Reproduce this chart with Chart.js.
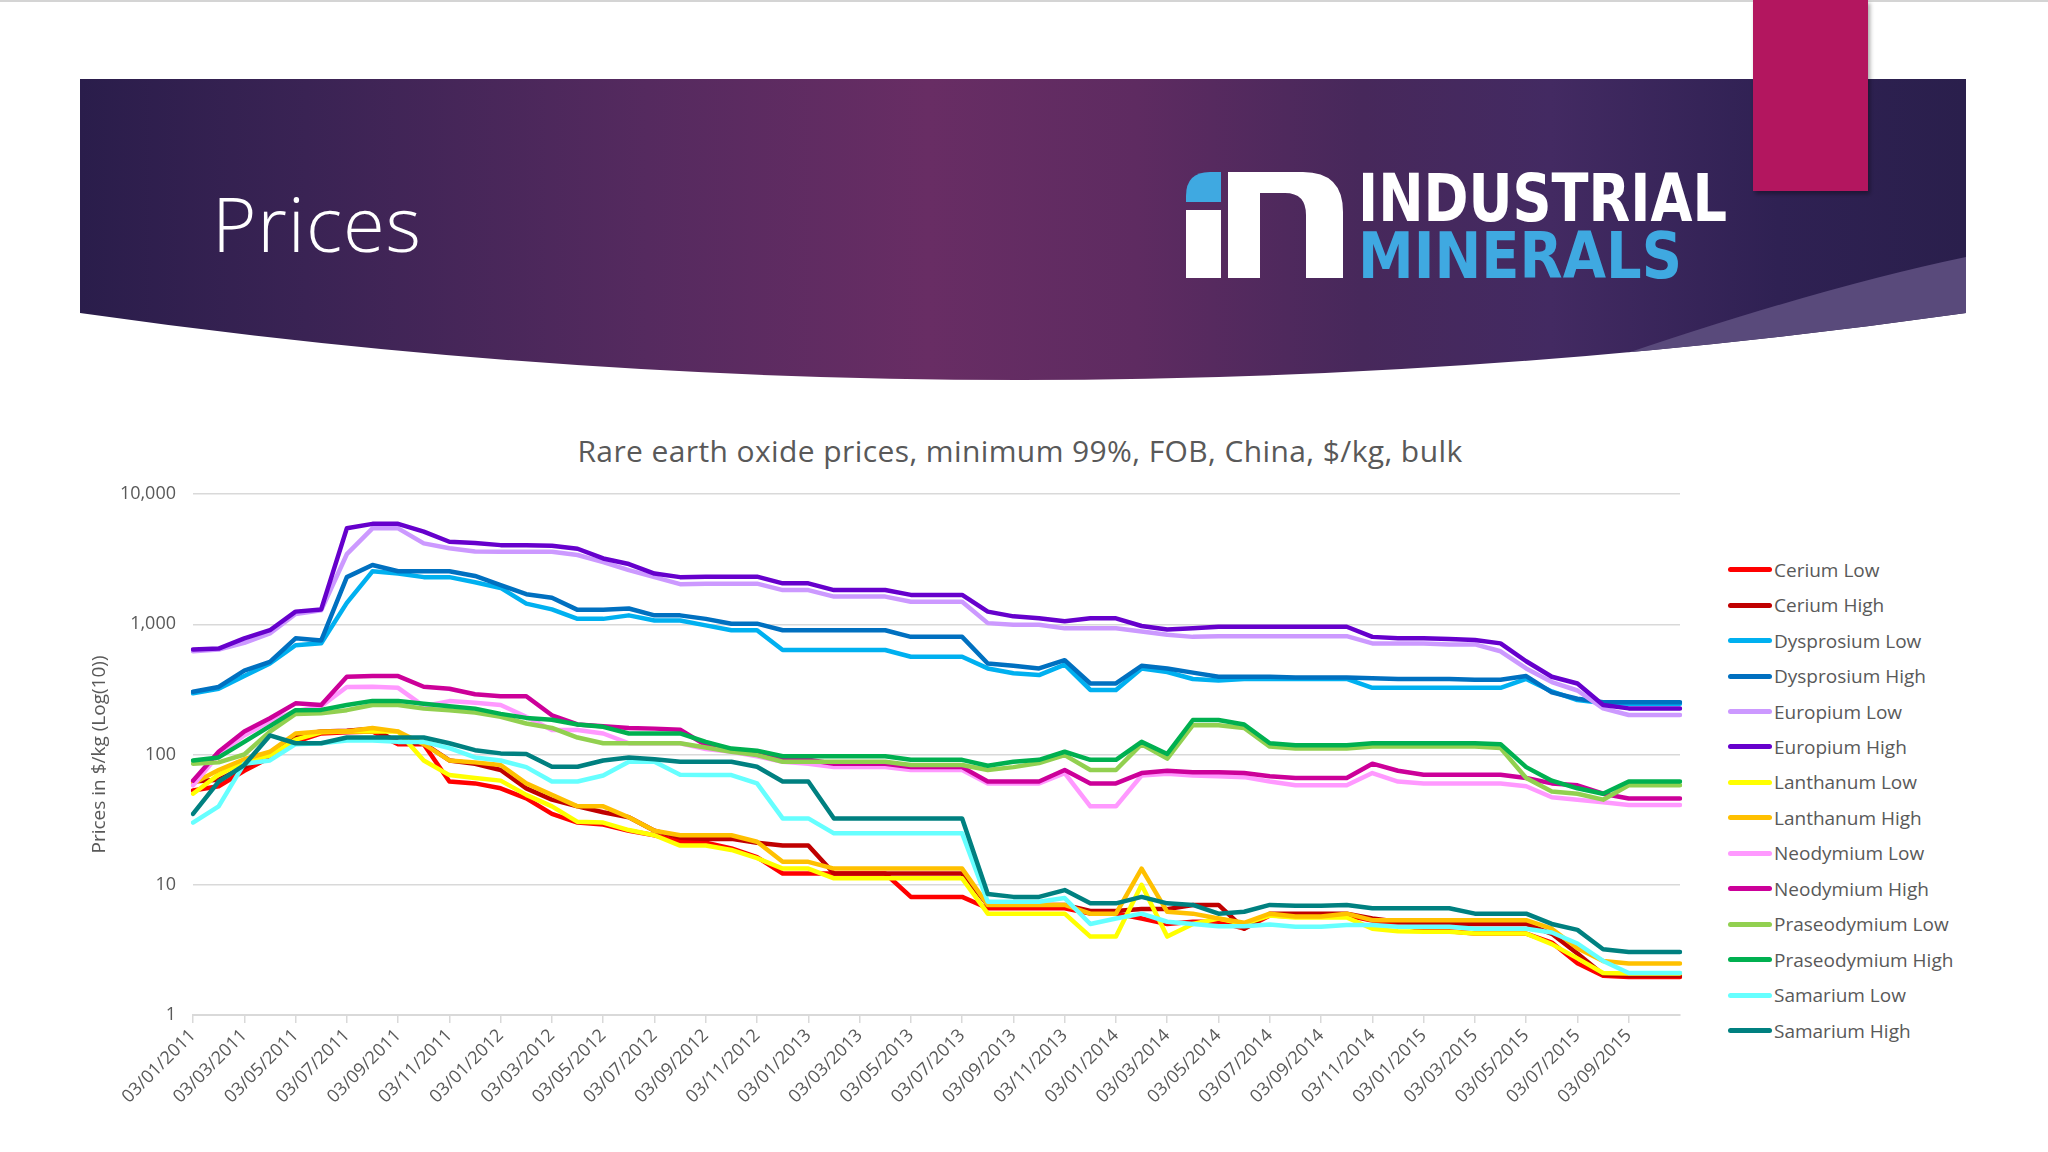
<!DOCTYPE html>
<html>
<head>
<meta charset="utf-8">
<script src="https://cdn.jsdelivr.net/npm/chart.js@4.4.1/dist/chart.umd.min.js"></script>
<style>
  html, body { margin: 0; padding: 0; background: #fff; }
  body { width: 2048px; height: 1152px; position: relative; overflow: hidden; font-family: 'Open Sans', sans-serif; }
  #topline { position: absolute; left: 0; top: 0; width: 2048px; height: 2px; background: #d4d4d4; }
  #header { position: absolute; left: 0; top: 0; }
  #chartTitle { position: absolute; left: 420px; width: 1200px; top: 430px; text-align: center; font-size: 30px; letter-spacing: 0.4px; color: #595959; }
  #wrap { position: absolute; left: 80px; top: 420px; width: 1620px; height: 732px; }
  #legend { position: absolute; left: 1728px; top: 552px; }
  .item { display: flex; align-items: center; height: 35.46px; font-size: 19px; color: #595959; white-space: nowrap; }
  .swatch { width: 44px; height: 5px; border-radius: 3px; margin-right: 2px; }
</style>
</head>
<body>
<div id="topline"></div>
<svg id="header" width="2048" height="420" xmlns="http://www.w3.org/2000/svg">
  <defs>
    <linearGradient id="band" gradientUnits="userSpaceOnUse" x1="80" y1="0" x2="1966" y2="0">
      <stop offset="0" stop-color="#2a1d4b"/>
      <stop offset="0.12" stop-color="#3a2354"/>
      <stop offset="0.3" stop-color="#552a5f"/>
      <stop offset="0.45" stop-color="#682d64"/>
      <stop offset="0.56" stop-color="#5e2b61"/>
      <stop offset="0.68" stop-color="#47285b"/>
      <stop offset="0.78" stop-color="#432a62"/>
      <stop offset="0.9" stop-color="#2f2153"/>
      <stop offset="1" stop-color="#2a1f4c"/>
    </linearGradient>
    <clipPath id="bandClip">
      <path d="M80,79 H1966 V313 Q1020,447 80,313 Z"/>
    </clipPath>
    <filter id="shadow" x="-20%" y="-20%" width="140%" height="140%">
      <feDropShadow dx="2" dy="3" stdDeviation="2" flood-color="#000" flood-opacity="0.35"/>
    </filter>
  </defs>
  <path d="M80,79 H1966 V313 Q1020,447 80,313 Z" fill="url(#band)"/>
  <path d="M1966,257 Q1760,300 1440,420 L1966,420 Z" fill="#594a7b" clip-path="url(#bandClip)"/>
  <rect x="1753" y="0" width="115" height="191" fill="#b3135e" filter="url(#shadow)"/>
  <text x="212" y="252" font-family="'Open Sans', sans-serif" font-weight="300" font-size="76" fill="#ffffff" textLength="209" lengthAdjust="spacing">Prices</text>
  <path d="M1186,278 V210 H1221 V278 Z" fill="#ffffff"/>
  <path d="M1186,202 V196 Q1186,172 1210,172 H1221 V202 Z" fill="#3fa9e1"/>
  <path d="M1228,278 V172 H1303 Q1343,172 1343,212 V278 H1306 V215 Q1306,193 1285,193 H1260 V278 Z" fill="#ffffff"/>
  <text x="1358" y="221" font-family="'Liberation Sans Narrow', 'DejaVu Sans Condensed', 'Roboto', sans-serif" font-weight="700" font-size="66" fill="#ffffff" textLength="369" lengthAdjust="spacingAndGlyphs">INDUSTRIAL</text>
  <text x="1358" y="278" font-family="'Liberation Sans Narrow', 'DejaVu Sans Condensed', 'Roboto', sans-serif" font-weight="700" font-size="64" fill="#3fa9e1" textLength="324" lengthAdjust="spacingAndGlyphs">MINERALS</text>
</svg>

<div id="chartTitle">Rare earth oxide prices, minimum 99%, FOB, China, $/kg, bulk</div>
<div id="wrap"><canvas id="grafica" width="1620" height="732"></canvas></div>
<div id="legend"></div>

<script>
// Fechas mensuales (03/mm/aaaa), etiqueta cada dos meses
const labels = [
  '03/01/2011','03/02/2011','03/03/2011','03/04/2011','03/05/2011','03/06/2011','03/07/2011','03/08/2011','03/09/2011','03/10/2011','03/11/2011','03/12/2011',
  '03/01/2012','03/02/2012','03/03/2012','03/04/2012','03/05/2012','03/06/2012','03/07/2012','03/08/2012','03/09/2012','03/10/2012','03/11/2012','03/12/2012',
  '03/01/2013','03/02/2013','03/03/2013','03/04/2013','03/05/2013','03/06/2013','03/07/2013','03/08/2013','03/09/2013','03/10/2013','03/11/2013','03/12/2013',
  '03/01/2014','03/02/2014','03/03/2014','03/04/2014','03/05/2014','03/06/2014','03/07/2014','03/08/2014','03/09/2014','03/10/2014','03/11/2014','03/12/2014',
  '03/01/2015','03/02/2015','03/03/2015','03/04/2015','03/05/2015','03/06/2015','03/07/2015','03/08/2015','03/09/2015','03/10/2015','03/11/2015'
];
const lastLabel = '03/09/2015';

const yTicks = [1, 10, 100, 1000, 10000];
const yTitle = 'Prices in $/kg (Log(10))';

// Precios $/kg
const ceriumLow = [53,57,75,95,125,145,148,150,120,120, 62,60,55,46,35,30,29,26,24,21.5,
  21,19,16.3,12.2,12.2,12.2,12.2,12.2,8.07,8.07, 8.07,6.6,6.6,6.6,6.6,6.0,6.0,5.5,5.0,5.2,
  5.2,4.6,5.8,5.7,5.7,5.8,5.3,5.0,4.5,4.4, 4.22,4.22,4.22,3.6,2.5,2.0,1.96,1.96,1.96];
const ceriumHigh = [62,64,80,100,140,150,152,158,125,122, 90,85,76,55,45,40,36,33,26,23,
  22.5,22.5,21,20,20,12.2,12.2,12.2,12.2,12.2, 12.2,7.0,7.0,7.0,7.0,6.3,6.3,6.5,6.5,7.0,
  7.0,4.6,6.0,6.0,6.0,6.0,5.5,5.2,5.0,5.0, 5.0,5.0,5.0,4.2,2.97,2.05,2.0,2.0,2.0];
const dysprosiumLow = [295,320,400,500,690,714,1460,2550,2450,2300, 2300,2100,1900,1440,1300,1100,1100,1170,1070,1070,
  980,900,900,634,634,634,634,634,563,563, 563,458,420,407,490,313,313,458,430,380,
  370,380,380,380,380,380,325,325,325,325, 325,325,380,305,262,248,245,245,245];
const dysprosiumHigh = [303,330,440,515,780,750,2300,2850,2550,2550, 2550,2350,2000,1700,1600,1290,1290,1320,1170,1170,
  1100,1010,1010,900,900,900,900,900,800,800, 800,500,480,458,530,351,351,480,458,425,
  395,395,395,390,390,390,385,380,380,380, 375,375,400,300,268,252,252,252,252];
const europiumLow = [620,640,720,850,1200,1280,3450,5450,5450,4180, 3830,3620,3600,3600,3600,3400,3000,2600,2300,2030,
  2050,2050,2050,1830,1830,1630,1630,1630,1490,1490, 1490,1020,990,990,930,930,930,880,830,800,
  810,810,810,810,810,810,713,713,713,700, 700,620,458,360,310,226,201,201,201];
const europiumHigh = [640,650,780,900,1250,1300,5450,5900,5900,5150, 4300,4200,4050,4050,4000,3800,3200,2900,2450,2300,
  2320,2320,2320,2060,2060,1830,1830,1830,1680,1680, 1680,1250,1150,1110,1055,1110,1110,970,910,930,
  957,957,957,957,957,957,800,780,780,770, 756,713,520,395,351,240,226,226,226];
const lanthanumLow = [50,70,88,98,130,148,150,150,150,90, 69.5,66,63,49,40,30.4,30,26.3,24,20,
  20,18.5,16,13.3,13.3,11.2,11.2,11.2,11.2,11.2, 11.2,6.0,6.0,6.0,6.0,4.0,4.0,10,4.0,5.0,
  5.5,5.0,5.8,5.6,5.6,5.6,4.6,4.4,4.35,4.35, 4.22,4.22,4.22,3.5,2.72,2.1,2.08,2.08,2.08];
const lanthanumHigh = [60,76,92,105,145,150,150,160,150,120, 90,87,83,60,49,40,40,33,26,24,
  24,24,21.4,15,15,13.3,13.3,13.3,13.3,13.3, 13.3,7.0,7.0,7.0,7.0,6.0,6.0,13.3,6.2,6.0,
  5.5,5.1,6.0,5.7,5.7,6.0,5.35,5.35,5.35,5.35, 5.35,5.35,5.35,4.6,3.25,2.6,2.49,2.49,2.49];
const neodymiumLow = [58,100,140,180,215,235,330,331,325,235, 257,250,240,195,154,154,145,122,122,122,
  110,105,97,88,85,80,80,80,76,76, 76,60,60,60,72,40,40,69,71,69,
  68,67,62,58,58,58,72,62,60,60, 60,60,57,47,45,43,41,41,41];
const neodymiumHigh = [63,105,150,190,247,240,395,400,400,331, 320,290,280,280,200,170,165,160,158,155,
  118,110,100,91,91,85,85,85,80,80, 80,62,62,62,76,60,60,72,75,73,
  73,72,68,66,66,66,85,75,70,70, 70,70,66,60,58,50,46,46,46];
const praseodymiumLow = [85,87,100,150,205,207,219,240,240,225, 219,210,195,173,160,135,122,122,122,122,
  113,105,99,88,88,88,88,88,83,83, 83,76,80,86,99,76,76,120,93,168,
  168,160,115,111,111,111,115,115,115,115, 115,112,66,52,50,45,58,58,58];
const praseodymiumHigh = [90,95,125,165,219,220,240,258,258,245, 235,225,205,191,185,170,163,145,145,145,
  125,111,107,97,97,97,97,97,91,91, 91,82,88,91,105,91,91,125,101,184,
  184,170,122,118,118,118,122,122,122,122, 122,120,80,63,55,50,62,62,62];
const samariumLow = [30,40,85,90,120,122,128,128,125,125, 112,95,90,80,62,62,69,88,88,70,
  69.5,69.5,60,32.3,32.3,24.8,24.8,24.8,24.8,24.8, 24.8,7.4,7.4,7.4,7.9,5.0,5.5,6.0,5.2,5.0,
  4.8,4.8,4.95,4.75,4.75,4.9,4.9,4.75,4.75,4.75, 4.6,4.6,4.6,4.3,3.54,2.6,2.1,2.1,2.1];
const samariumHigh = [35,62,83,140,122,122,135,135,135,135, 122,108,102,101,80.5,80.5,90,95,92,88,
  88,88,80.5,62,62,32.3,32.3,32.3,32.3,32.3, 32.3,8.5,8.07,8.07,9.1,7.2,7.2,8.07,7.2,7.0,
  6.0,6.2,7.0,6.9,6.9,7.0,6.6,6.6,6.6,6.6, 6.0,6.0,6.0,5.0,4.5,3.2,3.05,3.05,3.05];

const seriesNames = ['Cerium Low','Cerium High','Dysprosium Low','Dysprosium High','Europium Low','Europium High',
  'Lanthanum Low','Lanthanum High','Neodymium Low','Neodymium High','Praseodymium Low','Praseodymium High',
  'Samarium Low','Samarium High'];
const seriesValues = [ceriumLow, ceriumHigh, dysprosiumLow, dysprosiumHigh, europiumLow, europiumHigh,
  lanthanumLow, lanthanumHigh, neodymiumLow, neodymiumHigh, praseodymiumLow, praseodymiumHigh,
  samariumLow, samariumHigh];
const seriesColors = ['#FF0000','#C00000','#00B0F0','#0070C0','#CC99FF','#6600CC',
  '#FFFF00','#FFC000','#FF99FF','#CC0099','#92D050','#00B050','#66FFFF','#008080'];

// solo se rotula cada dos meses, hasta 03/09/2015
const lastIdx = labels.indexOf(lastLabel);
const showTick = i => i % 2 === 0 && i <= lastIdx;

Chart.defaults.font.family = "'Open Sans', sans-serif";
Chart.defaults.color = '#595959';

const ctx = document.getElementById('grafica').getContext('2d');
const myChart = new Chart(ctx, {
  type: 'line',
  data: {
    labels: labels,
    datasets: seriesNames.map((name, i) => ({
      label: name,
      data: seriesValues[i],
      borderColor: seriesColors[i],
      backgroundColor: seriesColors[i],
      borderWidth: 4.5,
      pointRadius: 0,
      tension: 0,
      borderJoinStyle: 'round',
      borderCapStyle: 'round',
      order: seriesNames.length - i   // las últimas series quedan encima
    }))
  },
  options: {
    responsive: false,
    animation: false,
    devicePixelRatio: 1,
    layout: { padding: { top: 74, right: 20, left: 0, bottom: 0 } },
    plugins: {
      legend: { display: false },
      title: { display: false },
      tooltip: { enabled: false }
    },
    scales: {
      x: {
        type: 'category',
        ticks: {
          autoSkip: false,
          maxRotation: 45,
          minRotation: 45,
          padding: 2,
          font: { size: 18 },
          color: '#595959',
          callback: (v, i) => (showTick(i) ? labels[i] : '')
        },
        grid: {
          drawOnChartArea: false,
          drawTicks: true,
          tickLength: 8,
          lineWidth: 1.5,
          color: c => (showTick(c.index) ? '#D9D9D9' : 'rgba(0,0,0,0)')
        },
        border: { color: '#D9D9D9', width: 2 },
        afterFit: s => { s.height = 137; }
      },
      y: {
        type: 'logarithmic',
        min: 1,
        max: 10000,
        afterBuildTicks: s => { s.ticks = yTicks.map(v => ({ value: v })); },
        ticks: {
          padding: 17,
          font: { size: 18 },
          color: '#595959',
          callback: v => Number(v).toLocaleString('en-US')
        },
        grid: { color: '#D9D9D9', lineWidth: 1.5, drawTicks: false },
        border: { display: false },
        title: { display: true, text: yTitle, font: { size: 19 }, color: '#595959', padding: { top: 8, bottom: 0 } },
        afterFit: s => { s.width = 113; }
      }
    }
  }
});

// Leyenda a la derecha
const legend = document.getElementById('legend');
seriesNames.forEach((name, i) => {
  const row = document.createElement('div');
  row.className = 'item';
  const sw = document.createElement('span');
  sw.className = 'swatch';
  sw.style.background = seriesColors[i];
  row.appendChild(sw);
  row.appendChild(document.createTextNode(name));
  legend.appendChild(row);
});
</script>
</body>
</html>
